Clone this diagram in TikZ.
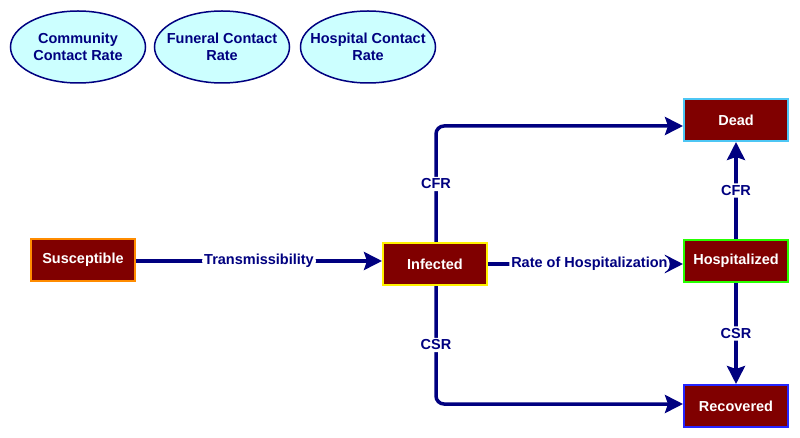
\documentclass[tikz,border=0pt]{standalone}
\usepackage{fontspec}
\setmainfont{Liberation Sans}
\usetikzlibrary{arrows.meta,shapes.geometric}
\definecolor{navyc}{HTML}{000080}
\definecolor{boxfill}{HTML}{800000}
\definecolor{ellfill}{HTML}{CCFFFF}
\tikzset{
  x=1pt,y=-1pt,
  state/.style={draw=#1,line width=2pt,fill=boxfill,minimum width=104pt,minimum height=42pt,inner sep=0pt,
    font=\fontsize{14.5}{16}\selectfont\bfseries,text=white},
  param/.style={ellipse,draw=navyc,line width=1.5pt,fill=ellfill,minimum width=135pt,minimum height=72pt,
    inner xsep=-14pt,inner ysep=0pt,
    align=center,font=\fontsize{14.5}{17}\selectfont\bfseries,text=navyc},
  flow/.style={draw=navyc,line width=3.5pt,rounded corners=8pt,-{Stealth[length=18pt,width=18pt,inset=3pt]}},
  lbl/.style={fill=white,inner sep=2pt,font=\fontsize{14.5}{16}\selectfont\bfseries,text=navyc}
}
\begin{document}
\begin{tikzpicture}
\useasboundingbox (0,0) rectangle (800,438);
\node[param] (ccr) at (78,47) {Community\\Contact Rate};
\node[param] (fcr) at (222,47) {Funeral Contact\\Rate};
\node[param] (hcr) at (368,47) {Hospital Contact\\Rate};

\node[state=orange!90!yellow] (sus) at (83,260) {Susceptible};
\node[state=yellow] (inf) at (435,264) {Infected};
\node[state=green!80!lime] (hos) at (736,261) {Hospitalized};
\node[state=cyan!70] (dead) at (736,120) {Dead};
\node[state=blue!85!white] (rec) at (736,406) {Recovered};

\coordinate (c1) at (436,126);
\coordinate (c2) at (436,404);

\draw[flow] (sus.east |- 0,261) -- node[lbl] {Transmissibility} (inf.west |- 0,261);
\draw[flow] (inf.east) -- node[lbl,pos=0.52] {Rate of Hospitalization} (hos.west |- inf.east);
\draw[flow] (inf.north -| c1) -- node[lbl,pos=0.5] {CFR} (c1) -- (dead.west |- c1);
\draw[flow] (inf.south -| c2) -- node[lbl,pos=0.5] {CSR} (c2) -- (rec.west |- c2);
\draw[flow] (hos.north) -- node[lbl] {CFR} (dead.south);
\draw[flow] (hos.south) -- node[lbl] {CSR} (rec.north);
\end{tikzpicture}
\end{document}
